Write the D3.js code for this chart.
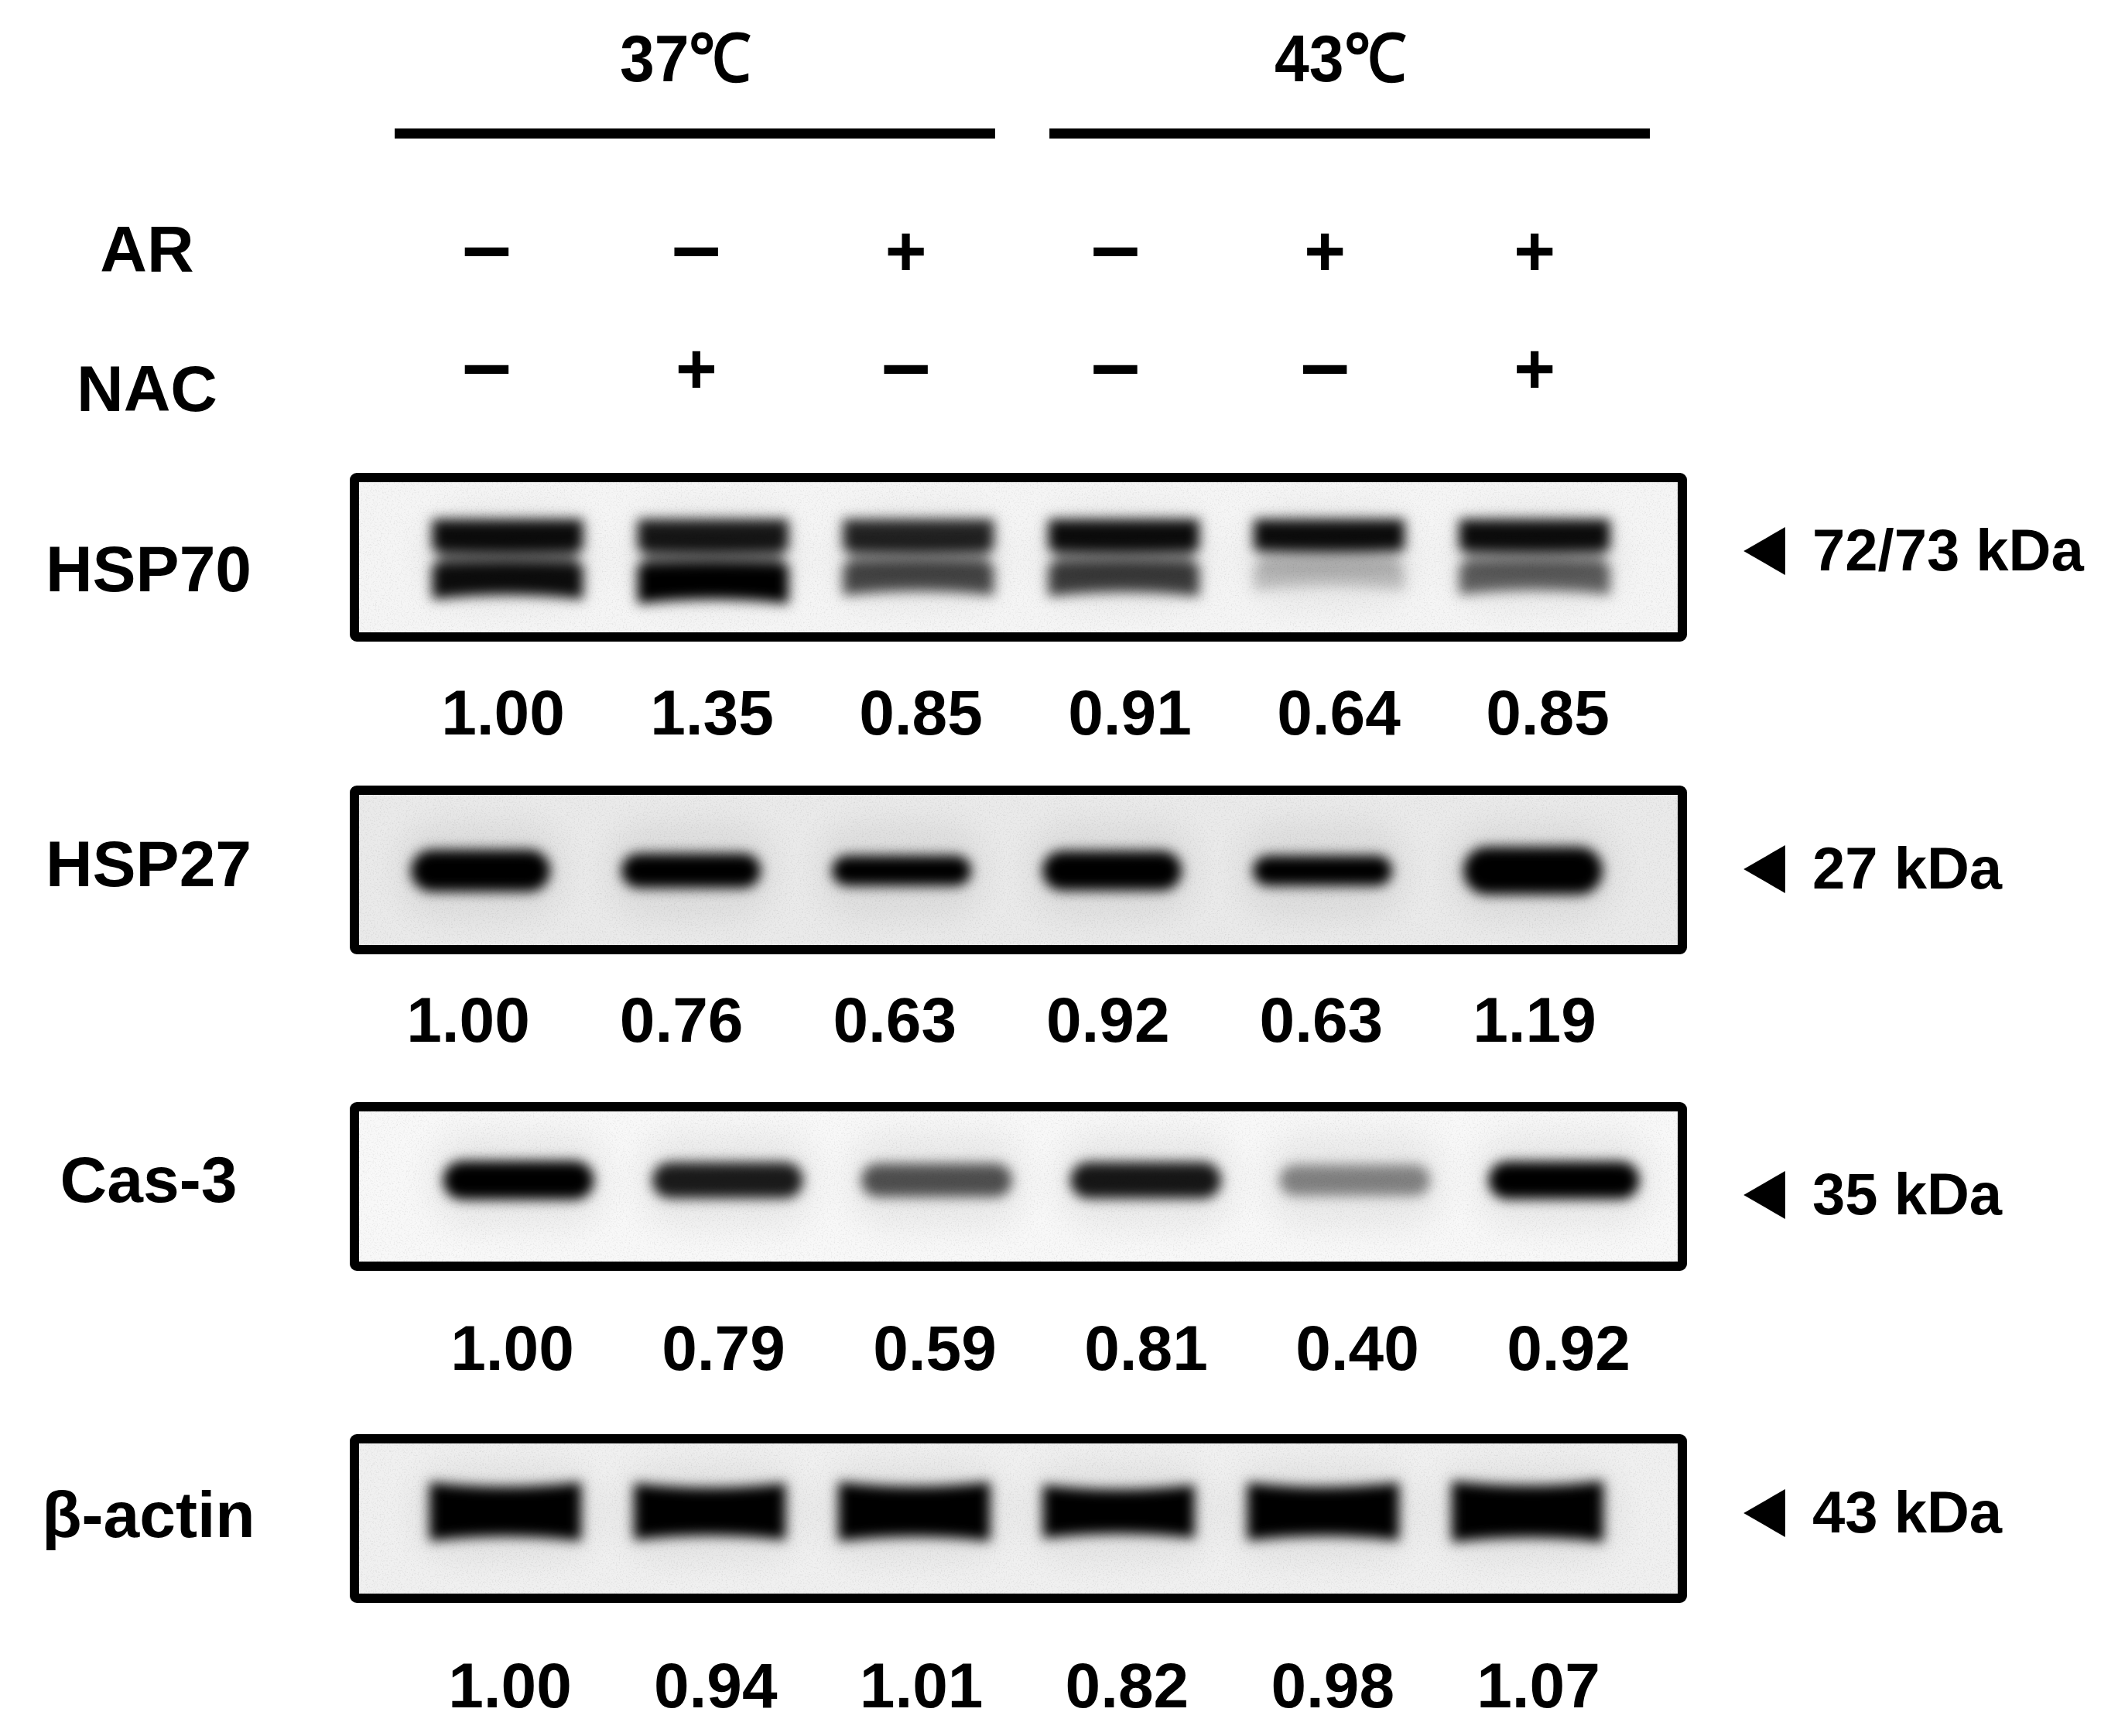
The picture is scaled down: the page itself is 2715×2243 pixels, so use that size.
<!DOCTYPE html>
<html>
<head>
<meta charset="utf-8">
<script src="https://cdn.jsdelivr.net/npm/d3@7"></script>
<style>
  body { margin: 0; background: #fff; }
  text { font-family: "Liberation Sans", Arial, sans-serif; font-weight: bold; fill: #000; }
</style>
</head>
<body>
<div id="chart"></div>
<script>
/* global d3 */

// Lanes and treatments
const lanes = [1, 2, 3, 4, 5, 6]
const temps = ['37℃', '43℃']
const arSigns = ['–', '–', '+', '–', '+', '+']
const nacSigns = ['–', '+', '–', '–', '–', '+']
const treatments = ['AR', 'NAC']

// Proteins and marker sizes
const proteins = ['HSP70', 'HSP27', 'Cas-3', 'β-actin']
const weights = ['72/73 kDa', '27 kDa', '35 kDa', '43 kDa']

// Relative band densities (printed under each blot)
const hsp70 = [1.00, 1.35, 0.85, 0.91, 0.64, 0.85]
const hsp27 = [1.00, 0.76, 0.63, 0.92, 0.63, 1.19]
const cas3 = [1.00, 0.79, 0.59, 0.81, 0.40, 0.92]
const actin = [1.00, 0.94, 1.01, 0.82, 0.98, 1.07]

// HSP70 doublet: darkness of the upper (73) and lower (72) band
const hsp70Upper = [0.95, 0.9, 0.85, 0.95, 0.95, 0.95]
const hsp70Lower = [0.95, 1.0, 0.7, 0.75, 0.2, 0.6]

const width = 2715
const height = 2243
const boxLeft = 452
const boxRight = 2180
const boxH = 218
const border = 12

const blots = [
  { values: hsp70, top: 611, bandY: 720, bandRange: [656, 1983], bandW: 195, numRange: [650, 2000], numY: 949, labelY: 764, markY: 712, bg: '#f5f5f5', type: 'doublet' },
  { values: hsp27, top: 1015, bandY: 1125, bandRange: [621, 1981], bandW: 190, numRange: [605, 1983], numY: 1346, labelY: 1145, markY: 1123, bg: '#eaeaea', type: 'single', gain: 1.6, hDomain: [0.6, 1.2], hRange: [38, 62], bow: 0 },
  { values: cas3, top: 1424, bandY: 1525, bandRange: [670, 2021], bandW: 205, numRange: [662, 2027], numY: 1770, labelY: 1553, markY: 1544, bg: '#f8f8f8', type: 'single', gain: 1.12, hDomain: [0.4, 1.0], hRange: [40, 50], bow: 0 },
  { values: actin, top: 1853, bandY: 1953, bandRange: [653, 1974], bandW: 212, numRange: [659, 1988], numY: 2206, labelY: 1986, markY: 1955, bg: '#f0f0f0', type: 'single', gain: 2, hDomain: [0.8, 1.1], hRange: [68, 80], bow: 12 }
]

const svg = d3.select('#chart')
  .append('svg')
  .attr('width', width)
  .attr('height', height)
  .attr('viewBox', `0 0 ${width} ${height}`)

const defs = svg.append('defs')

defs.append('filter')
  .attr('id', 'blur')
  .attr('x', '-30%').attr('y', '-80%')
  .attr('width', '160%').attr('height', '260%')
  .append('feGaussianBlur')
  .attr('stdDeviation', 8)

defs.append('filter')
  .attr('id', 'haze')
  .attr('x', '-50%').attr('y', '-100%')
  .attr('width', '200%').attr('height', '300%')
  .append('feGaussianBlur')
  .attr('stdDeviation', 22)

// speckle of the scanned film
const grain = defs.append('filter').attr('id', 'grain')
grain.append('feTurbulence')
  .attr('type', 'fractalNoise')
  .attr('baseFrequency', 0.55)
  .attr('numOctaves', 2)
  .attr('seed', 3)
grain.append('feColorMatrix')
  .attr('type', 'matrix')
  .attr('values', '0 0 0 0 0  0 0 0 0 0  0 0 0 0 0  1.6 0 0 0 -0.8')

// Header: temperature groups
const groupX = d3.scaleBand()
  .domain(temps)
  .range([510, 2132])
  .paddingInner(0.083)

svg.append('g')
  .selectAll('rect')
  .data(temps)
  .join('rect')
  .attr('x', d => groupX(d))
  .attr('y', 166)
  .attr('width', groupX.bandwidth())
  .attr('height', 13)
  .attr('fill', '#000')

svg.append('g')
  .selectAll('text')
  .data(temps)
  .join('text')
  .attr('x', d => groupX(d) + groupX.bandwidth() / 2 - 12)
  .attr('y', 105)
  .attr('text-anchor', 'middle')
  .attr('font-size', 86)
  .attr('textLength', 170)
  .attr('lengthAdjust', 'spacingAndGlyphs')
  .text(d => d)

// Treatment rows
const signX = d3.scalePoint().domain(lanes).range([629, 1983])
const rowY = d3.scalePoint().domain(treatments).range([324, 476])

svg.append('g')
  .selectAll('text')
  .data(treatments)
  .join('text')
  .attr('x', 190)
  .attr('y', d => rowY(d) + (d === 'AR' ? 27 : 55))
  .attr('text-anchor', 'middle')
  .attr('font-size', 84)
  .text(d => d)

const signRows = [arSigns, nacSigns]
signRows.forEach((signs, r) => {
  svg.append('g')
    .selectAll('text')
    .data(signs)
    .join('text')
    .attr('x', (d, i) => signX(lanes[i]))
    .attr('y', d => rowY(treatments[r]) + (d === '+' ? 32 : 32))
    .attr('text-anchor', 'middle')
    .attr('font-size', d => d === '+' ? 92 : 114)
    .text(d => d)
})

// Blots
const marker = d3.symbol().type(d3.symbolTriangle).size(1664)

function bandPath (cx, cy, w, h, bowTop, bowBottom) {
  const p = d3.path()
  const x0 = cx - w / 2
  const x1 = cx + w / 2
  const t = cy - h / 2
  const b = cy + h / 2
  p.moveTo(x0, t)
  p.quadraticCurveTo(cx, t + bowTop, x1, t)
  p.lineTo(x1, b)
  p.quadraticCurveTo(cx, b - bowBottom, x0, b)
  p.closePath()
  return p.toString()
}

function pillPath (cx, cy, w, h) {
  const p = d3.path()
  const r = h / 2
  p.moveTo(cx - w / 2 + r, cy - r)
  p.lineTo(cx + w / 2 - r, cy - r)
  p.arc(cx + w / 2 - r, cy, r, -Math.PI / 2, Math.PI / 2)
  p.lineTo(cx - w / 2 + r, cy + r)
  p.arc(cx - w / 2 + r, cy, r, Math.PI / 2, Math.PI * 1.5)
  p.closePath()
  return p.toString()
}

blots.forEach((blot, k) => {
  const g = svg.append('g')
  const laneX = d3.scalePoint().domain(lanes).range(blot.bandRange)
  const numX = d3.scalePoint().domain(lanes).range(blot.numRange)
  const clipId = `clip${k}`

  defs.append('clipPath')
    .attr('id', clipId)
    .append('rect')
    .attr('x', boxLeft + border)
    .attr('y', blot.top + border)
    .attr('width', boxRight - boxLeft - 2 * border)
    .attr('height', boxH - 2 * border)

  const film = g.append('g').attr('clip-path', `url(#${clipId})`)

  film.append('rect')
    .attr('x', boxLeft)
    .attr('y', blot.top)
    .attr('width', boxRight - boxLeft)
    .attr('height', boxH)
    .attr('fill', blot.bg)

  film.append('rect')
    .attr('x', boxLeft)
    .attr('y', blot.top)
    .attr('width', boxRight - boxLeft)
    .attr('height', boxH)
    .attr('filter', 'url(#grain)')
    .attr('opacity', 0.12)

  // soft smear round each lane
  film.append('g')
    .selectAll('rect')
    .data(blot.values)
    .join('rect')
    .attr('x', (d, i) => laneX(lanes[i]) - blot.bandW * 0.55)
    .attr('y', blot.bandY - 60)
    .attr('width', blot.bandW * 1.1)
    .attr('height', 120)
    .attr('rx', 50)
    .attr('fill', '#000')
    .attr('opacity', 0.06)
    .attr('filter', 'url(#haze)')

  const bands = film.append('g').attr('filter', 'url(#blur)')

  if (blot.type === 'doublet') {
    const lanesData = blot.values.map((v, i) => ({ v, up: hsp70Upper[i], low: hsp70Lower[i], lane: lanes[i] }))

    // gap between the two bands
    bands.selectAll('path.mid')
      .data(lanesData)
      .join('path')
      .attr('class', 'mid')
      .attr('d', d => bandPath(laneX(d.lane), 718, blot.bandW - 14, 36, 0, 0))
      .attr('fill', '#000')
      .attr('fill-opacity', d => 0.45 * Math.min(d.up, d.low) + 0.08)

    bands.selectAll('path.up')
      .data(lanesData)
      .join('path')
      .attr('class', 'up')
      .attr('d', d => bandPath(laneX(d.lane), 691, blot.bandW, 40, 0, -4))
      .attr('fill', '#000')
      .attr('fill-opacity', d => d.up)

    bands.selectAll('path.low')
      .data(lanesData)
      .join('path')
      .attr('class', 'low')
      .attr('d', d => {
        const h = 32 + 14 * d.low * d.v
        return bandPath(laneX(d.lane), 729 + h / 2, blot.bandW, h, -4, 12)
      })
      .attr('fill', '#000')
      .attr('fill-opacity', d => d.low)
  } else {
    const bandH = d3.scaleLinear().domain(blot.hDomain).range(blot.hRange)
    bands.selectAll('path')
      .data(blot.values)
      .join('path')
      .attr('d', (d, i) => {
        const h = bandH(d)
        const cx = laneX(lanes[i])
        return blot.bow > 0
          ? bandPath(cx, blot.bandY, blot.bandW - 16, h, blot.bow, blot.bow)
          : pillPath(cx, blot.bandY, blot.bandW - 10, h)
      })
      .attr('fill', '#000')
      .attr('fill-opacity', d => Math.min(1, d * blot.gain))
  }

  // frame
  g.append('rect')
    .attr('x', boxLeft + border / 2)
    .attr('y', blot.top + border / 2)
    .attr('width', boxRight - boxLeft - border)
    .attr('height', boxH - border)
    .attr('rx', 3)
    .attr('fill', 'none')
    .attr('stroke', '#000')
    .attr('stroke-width', border)

  // protein name
  g.append('text')
    .attr('x', 192)
    .attr('y', blot.labelY)
    .attr('text-anchor', 'middle')
    .attr('font-size', 84)
    .text(proteins[k])

  // size marker
  g.append('path')
    .attr('d', marker())
    .attr('transform', `translate(2289, ${blot.markY}) rotate(-90)`)
    .attr('fill', '#000')

  g.append('text')
    .attr('x', 2342)
    .attr('y', blot.markY + 25)
    .attr('font-size', 76)
    .text(weights[k])

  // quantification
  g.append('g')
    .selectAll('text')
    .data(blot.values)
    .join('text')
    .attr('x', (d, i) => numX(lanes[i]))
    .attr('y', blot.numY)
    .attr('text-anchor', 'middle')
    .attr('font-size', 82)
    .text(d => d.toFixed(2))
})
</script>
</body>
</html>
